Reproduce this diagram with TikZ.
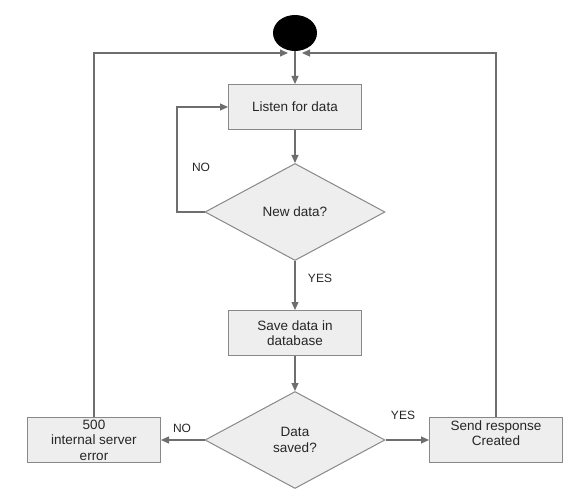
\documentclass[tikz,border=0pt]{standalone}
\usepackage{fontspec}
\setmainfont{Liberation Sans}
\usetikzlibrary{shapes.geometric,arrows.meta}
\definecolor{boxfill}{HTML}{EEEEEE}
\definecolor{boxline}{HTML}{888888}
\definecolor{conn}{HTML}{6E6E6E}
\begin{document}
\begin{tikzpicture}[x=1pt,y=-1pt,
  font=\fontsize{13.5}{15.5}\selectfont,
  procbox/.style={rectangle,draw=boxline,fill=boxfill,line width=1pt,minimum width=133pt,minimum height=45pt,inner sep=1pt,align=center,text=black!85},
  decision/.style={diamond,draw=boxline,fill=boxfill,line width=1pt,minimum width=180pt,minimum height=97pt,inner sep=0pt,align=center,text=black!85},
  conn/.style={draw=conn,line width=1.2pt,-{Triangle[length=8pt,width=7pt]}},
  lbl/.style={font=\fontsize{12}{14}\selectfont,text=black!85}
]
\useasboundingbox (0,0) rectangle (576,500);
\node[ellipse,fill=black,minimum width=44pt,minimum height=36pt,inner sep=0pt] (start) at (295,33) {};
\node[procbox] (listen) at (295,107) {Listen for data};
\node[decision] (newdata) at (295,212) {New data?};
\node[procbox] (save) at (295,333) {Save data in\\database};
\node[decision] (saved) at (295,440) {Data\\saved?};
\node[procbox] (err) at (94,440) {500\\internal server\\error};
\node[procbox,text depth=14pt] (send) at (496,440) {Send response\\Created};
\coordinate (ll) at (288,53);
\coordinate (rr) at (302,53);
\coordinate (loopx) at (177,0);

\draw[conn] (start.south) -- (listen.north);
\draw[conn] (listen.south) -- (newdata.north);
\draw[conn] (newdata.west) -| (loopx |- listen.west) -- (listen.west);
\draw[conn] (newdata.south) -- (save.north);
\draw[conn] (save.south) -- (saved.north);
\draw[conn] (saved.west) -- (saved.west -| err.east);
\draw[conn] (saved.east) -- (saved.east -| send.west);
\draw[conn] (err.north) |- (ll);
\draw[conn] (send.north) |- (rr);

\node[lbl] (nolbl1) at (201,167) {NO};
\node[lbl] (yeslbl1) at (320,278) {YES};
\node[lbl] (nolbl2) at (182,428) {NO};
\node[lbl] (yeslbl2) at (403,415) {YES};
\end{tikzpicture}
\end{document}
